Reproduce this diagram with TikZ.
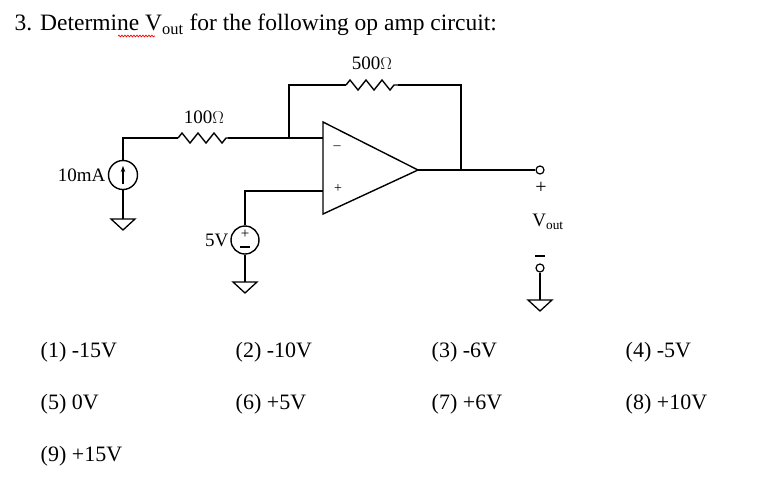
\documentclass[tikz,border=0pt]{standalone}
\usepackage{fontspec}
\setmainfont{Liberation Serif}
\usetikzlibrary{decorations.pathmorphing,arrows.meta}
\begin{document}
\begin{tikzpicture}[x=1pt,y=-1pt,line width=1.4pt,
  res/.style={decorate,decoration={zigzag,segment length=16pt,amplitude=5pt}},
  lbl/.style={font=\fontsize{19}{21}\selectfont,inner sep=1pt},
  ans/.style={font=\fontsize{22}{24}\selectfont,anchor=west,inner sep=0pt}]
\useasboundingbox (0,0) rectangle (764,488);
\node[anchor=west,font=\fontsize{23.5}{26}\selectfont,inner sep=0pt] (title) at (14,25) {3. Determine V\textsubscript{out} for the following op amp circuit:};
\draw[red,line width=0.7pt,decorate,decoration={snake,segment length=3pt,amplitude=0.9pt}] (118,36) -- (155,36);
% opamp
\draw (323,122) coordinate (ot) -- (418,170) coordinate (tip) -- (323,214) coordinate (ob) -- cycle;
\node[font=\fontsize{14}{14}\selectfont] (mlab) at (337,148) {--};
\node[font=\fontsize{14}{14}\selectfont] (plab) at (338,189) {+};
% current source
\node[circle,draw,minimum size=29pt,inner sep=0pt] (is) at (123,175) {};
\draw[-{Stealth[length=6pt]},line width=1.3pt] ([yshift=-9pt]is.center) -- ([yshift=9pt]is.center);
\node[lbl,anchor=east] (isl) at (107,175) {10mA};
\coordinate (r1a) at (178,138); \coordinate (r1b) at (228,138);
\draw (is.north) |- (r1a);
\draw[res] (r1a) -- (r1b);
\coordinate (j) at (289,138);
\draw (r1b) -- (j) -- (323,138);
\node[lbl] (r1l) at (204,117) {100$\Omega$};
% feedback
\coordinate (r2a) at (346,85); \coordinate (r2b) at (398,85);
\draw (j) |- (r2a);
\draw[res] (r2a) -- (r2b);
\coordinate (fr) at (461,85);
\draw (r2b) -- (fr) -- (461,170);
\node[lbl] (r2l) at (372,63) {500$\Omega$};
\node[circle,draw,line width=1.2pt,minimum size=8pt,inner sep=0pt] (vo) at (540,170) {};
\draw (tip) -- (vo.west);
% ground of current source
\draw (is.south) -- (123,219);
\draw[line width=1.3pt] (111,219) -- (135,219) -- (123,230) -- cycle;
% voltage source
\node[circle,draw,minimum size=28pt,inner sep=0pt] (vs) at (245,240) {};
\node[font=\fontsize{15}{15}\selectfont] (vsp) at (245,234) {+};
\draw[line width=1.2pt] (240,247) -- (250,247);
\node[lbl,anchor=east] (vsl) at (230,240) {5V};
\draw (vs.north) |- (323,191);
\draw (vs.south) -- (245,282);
\draw[line width=1.3pt] (233,282) -- (257,282) -- (245,293) -- cycle;
% Vout
\node[font=\fontsize{20}{20}\selectfont] (vop) at (541,188) {+};
\node[lbl] (vol) at (548,222) {V\textsubscript{out}};
\draw[line width=1.2pt] (535,256) -- (545,256);
\node[circle,draw,line width=1.2pt,minimum size=8pt,inner sep=0pt] (vm) at (540,268) {};
\draw (vm.south) -- (540,300);
\draw[line width=1.3pt] (528,300) -- (552,300) -- (540,311) -- cycle;
% answers
\node[ans] (a1) at (40,352) {(1) -15V};
\node[ans] (a2) at (235,352) {(2) -10V};
\node[ans] (a3) at (431,352) {(3) -6V};
\node[ans] (a4) at (625,352) {(4) -5V};
\node[ans] (a5) at (40,404) {(5) 0V};
\node[ans] (a6) at (235,404) {(6) +5V};
\node[ans] (a7) at (431,404) {(7) +6V};
\node[ans] (a8) at (625,404) {(8) +10V};
\node[ans] (a9) at (40,456) {(9) +15V};
\end{tikzpicture}
\end{document}
